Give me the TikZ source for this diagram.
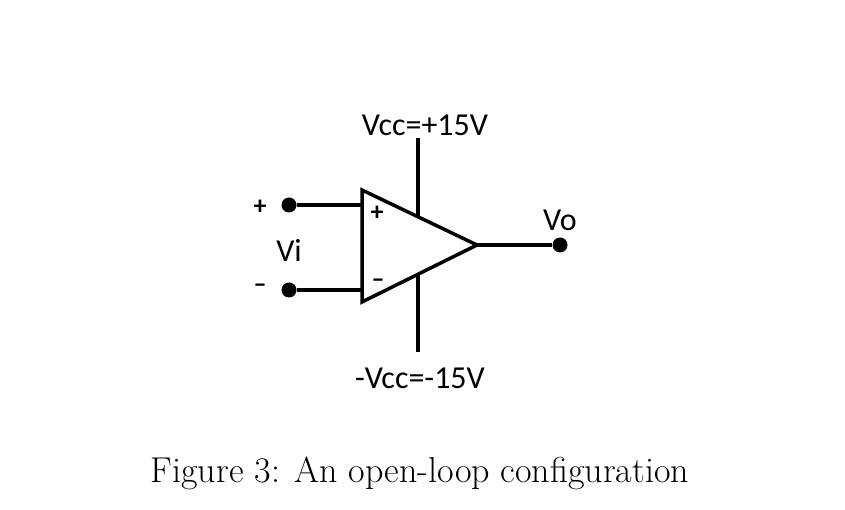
\documentclass[tikz,border=0pt]{standalone}
\usepackage{fontspec}
\setsansfont{Carlito}
\begin{document}
\begin{tikzpicture}[x=1pt,y=-1pt,
  wire/.style={line width=3.5pt},
  dot/.style={circle,fill=black,inner sep=0pt,minimum size=15pt},
  lbl/.style={font=\sffamily\fontsize{32}{36}\selectfont,inner sep=0pt}]
\useasboundingbox (0,0) rectangle (845,510);
\coordinate (tl) at (362,190); \coordinate (bl) at (362,302); \coordinate (ap) at (477,245);
\draw[wire,line join=miter] (tl) -- (ap) -- (bl) -- cycle;
\coordinate (vt) at (418,138); \coordinate (vti) at (418,217);
\coordinate (vb) at (418,352); \coordinate (vbi) at (418,274);
\draw[wire] (vt) -- (vti);
\draw[wire] (vb) -- (vbi);
\node[dot] (ip) at (289,205) {};
\node[dot] (im) at (289,290) {};
\node[dot] (out) at (560,245) {};
\coordinate (pin) at (362,205); \coordinate (min) at (362,290);
\draw[wire] (ip) -- (pin);
\draw[wire] (im) -- (min);
\draw[wire] (ap) -- (out);
\node[lbl] (vcc) at (425,125) {Vcc=+15V};
\node[lbl] (vee) at (420,378) {-Vcc=-15V};
\node[lbl] (vi) at (289,250) {Vi};
\node[lbl] (vo) at (560,220) {Vo};
\node[lbl,font=\sffamily\bfseries\fontsize{26}{30}\selectfont] (pl) at (260,207) {+};
\node[lbl,font=\sffamily\bfseries\fontsize{26}{30}\selectfont] (mi) at (260,288) {\textendash};
\node[lbl,font=\sffamily\bfseries\fontsize{26}{30}\selectfont] (pi) at (377,213) {+};
\node[lbl,font=\sffamily\bfseries\fontsize{26}{30}\selectfont] (mii) at (378,283) {\textendash};
\node[inner sep=0pt,font=\fontsize{36}{40}\selectfont] (cap) at (420,473) {Figure 3: An open-loop configuration};
\end{tikzpicture}
\end{document}
